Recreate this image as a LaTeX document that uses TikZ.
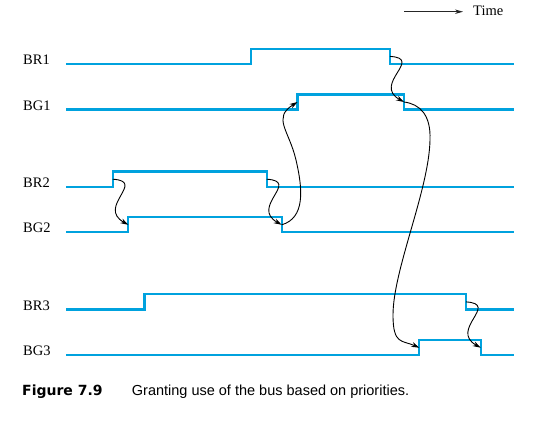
\documentclass[tikz,border=0pt]{standalone}
\usepackage{fontspec}
\setmainfont{Liberation Serif}
\newfontfamily\capsans{Liberation Sans}
\newfontfamily\capbold{DejaVu Sans}
\usetikzlibrary{arrows.meta}
\definecolor{sigblue}{RGB}{0,162,222}
\begin{document}
\begin{tikzpicture}[x=1pt,y=-1pt,
  sig/.style={draw=sigblue,line width=2.3pt,line join=miter},
  conn/.style={draw=black,line width=0.9pt,-{Stealth[length=8pt,width=5pt]}},
  tarrow/.style={draw=black!85,line width=0.9pt,-{Stealth[length=8pt,width=4.5pt]}},
  lbl/.style={anchor=base west,inner sep=0pt,font=\fontsize{14.5}{16}\selectfont}]
\useasboundingbox (0,0) rectangle (551,424);

% time arrow
\coordinate (ts) at (404,11.7);
\coordinate (te) at (463,11.7);
\draw[tarrow] (ts) -- (te);
\node[lbl] (time) at (473,15.5) {Time};

% labels
\node[lbl] (lbr1) at (23,64.5) {BR1};
\node[lbl] (lbg1) at (23,110) {BG1};
\node[lbl] (lbr2) at (23,187.3) {BR2};
\node[lbl] (lbg2) at (23,232.8) {BG2};
\node[lbl] (lbr3) at (23,310) {BR3};
\node[lbl] (lbg3) at (23,355.5) {BG3};

% signals
\draw[sig] (66,64) -| (251,48.7) -| (390,64) -- (514,64);
\draw[sig] (66,109.5) -| (297.5,94.5) -| (404,109.5) -- (514,109.5);
\draw[sig] (66,186.8) -| (112.7,171.5) -| (266.7,186.8) -- (514,186.8);
\draw[sig] (66,232.3) -| (128.3,217.3) -| (281.7,232.3) -- (514,232.3);
\draw[sig] (66,309.5) -| (144.5,294.3) -| (466,309.5) -- (514,309.5);
\draw[sig] (66,355) -| (419.3,340.3) -| (480.7,355) -- (514,355);

% edge coordinates
\coordinate (br1f) at (390,56.4);
\coordinate (bg1r) at (297.5,102);
\coordinate (bg1f) at (404,102);
\coordinate (br2r) at (112.7,179.2);
\coordinate (br2f) at (266.7,179.2);
\coordinate (bg2r) at (128.3,224.8);
\coordinate (bg2f) at (281.7,224.8);
\coordinate (br3f) at (466,301.9);
\coordinate (bg3r) at (419.3,347.7);
\coordinate (bg3f) at (480.7,347.7);

% connectors
\draw[conn] (br1f) .. controls +(34,2) and +(-32,-18) .. (bg1f);
\draw[conn] (br2r) .. controls +(34,2) and +(-32,-18) .. (bg2r);
\draw[conn] (br2f) .. controls +(34,2) and +(-32,-18) .. (bg2f);
\draw[conn] (br3f) .. controls +(34,2) and +(-32,-18) .. (bg3f);
\draw[conn] (bg2f) .. controls (305,218) and (303,190) .. (296,160)
  .. controls (289,130) and (272,118) .. (bg1r);
\draw[conn] (bg1f) .. controls (420,104) and (431,115) .. (430,140)
  .. controls (429,190) and (393,270) .. (393,315)
  .. controls (393,345) and (402,340) .. (bg3r);

% caption
\node[anchor=base west,inner sep=0pt,font=\capbold\bfseries\fontsize{14}{16}\selectfont] (fig) at (22,395.7) {Figure 7.9};
\node[anchor=base west,inner sep=0pt,font=\capsans\fontsize{14.5}{16}\selectfont] (cap) at (131.7,395.7) {Granting use of the bus based on priorities.};
\end{tikzpicture}
\end{document}
